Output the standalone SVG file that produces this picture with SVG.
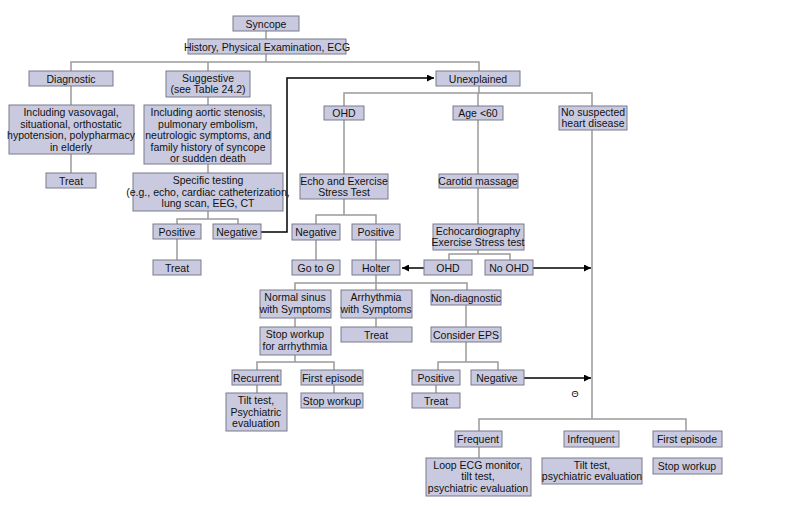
<svg xmlns="http://www.w3.org/2000/svg" width="803" height="530" viewBox="0 0 803 530">
<defs>
<style>
.b rect{fill:#c9cae0;stroke:#7a7a8a;stroke-width:1}
.b text{font-family:"Liberation Sans",Arial,sans-serif;font-size:10.5px;fill:#111;text-anchor:middle}
.c path{fill:none;stroke:#9a9a9a;stroke-width:1.5}
.c .k{stroke:#000;stroke-width:1.5}
</style>
<marker id="ar" viewBox="0 0 10 10" refX="10" refY="5" markerWidth="9" markerHeight="7" orient="auto" markerUnits="userSpaceOnUse"><path d="M0,0L10,5L0,10z" fill="#000"/></marker>
</defs>
<rect width="803" height="530" fill="#fff"/>
<g class="c">
<path d="M266,31V39M266,54V62M71,71V62H479V71M208,62V71"/>
<path d="M71,86V105M71,154V173M208,97V105M208,164V173M208,211V219M177,224V219H238V224M177,239V260"/>
<path d="M479,86V93M344,106V93H592V106M478,93V106M344,120V174M344,199V215M316,224V215H376V224M316,240V260M376,240V260"/>
<path d="M478,120V174M478,188V224M478,250V254M449,260V254H510V260"/>
<path d="M376,275V283M295,290V283H467V290M376,283V290M295,318V327M376,318V327M466,305V327"/>
<path d="M295,355V362M257,370V362H334V370M257,385V393M334,385V393M466,342V362M438,370V362H498V370M436,385V393"/>
<path d="M592,130V419M479,431V419H686V431M479,447V458"/>
<path class="k" d="M261,232H287V78H434" marker-end="url(#ar)"/>
<path class="k" d="M424,268H402" marker-end="url(#ar)"/>
<path class="k" d="M533,268H591" marker-end="url(#ar)"/>
<path class="k" d="M524,378H591" marker-end="url(#ar)"/>
</g>
<text x="575" y="397" font-family="Liberation Sans,sans-serif" font-size="9" text-anchor="middle">Θ</text>
<g class="b">
<g id="n1"><rect x="233" y="16" width="66" height="15"/><text x="266" y="27.5">Syncope</text></g>
<g id="n2"><rect x="188" y="39" width="158" height="15"/><text x="267" y="50.5">History, Physical Examination, ECG</text></g>
<g id="n3"><rect x="29" y="71" width="84" height="15"/><text x="71" y="82.5">Diagnostic</text></g>
<g id="n4"><rect x="166" y="71" width="84" height="26"/><text x="208" y="81.5">Suggestive</text><text x="208" y="93">(see Table 24.2)</text></g>
<g id="n5"><rect x="9" y="105" width="125" height="49"/><text x="71" y="116">Including vasovagal,</text><text x="71" y="127.5">situational, orthostatic</text><text x="71" y="139">hypotension, polypharmacy</text><text x="71" y="150.5">in elderly</text></g>
<g id="n6"><rect x="144" y="105" width="127" height="59"/><text x="208" y="116">Including aortic stenosis,</text><text x="208" y="127.5">pulmonary embolism,</text><text x="208" y="139">neutrologic symptoms, and</text><text x="208" y="150.5">family history of syncope</text><text x="208" y="162">or sudden death</text></g>
<g id="n7"><rect x="46" y="173" width="50" height="15"/><text x="71" y="184.5">Treat</text></g>
<g id="n8"><rect x="133" y="173" width="150" height="38"/><text x="208" y="184">Specific testing</text><text x="208" y="195.5">(e.g., echo, cardiac catheterization,</text><text x="208" y="207">lung scan, EEG, CT</text></g>
<g id="n9"><rect x="153" y="224" width="48" height="15"/><text x="177" y="235.5">Positive</text></g>
<g id="n10"><rect x="213" y="224" width="48" height="15"/><text x="237" y="235.5">Negative</text></g>
<g id="n11"><rect x="153" y="260" width="48" height="15"/><text x="177" y="271.5">Treat</text></g>
<g id="n12"><rect x="436" y="71" width="84" height="15"/><text x="478" y="82.5">Unexplained</text></g>
<g id="n13"><rect x="324" y="106" width="40" height="14"/><text x="344" y="117">OHD</text></g>
<g id="n14"><rect x="453" y="106" width="50" height="14"/><text x="478" y="117">Age &lt;60</text></g>
<g id="n15"><rect x="559" y="106" width="68" height="24"/><text x="593" y="116">No suspected</text><text x="593" y="127">heart disease</text></g>
<g id="n16"><rect x="300" y="174" width="88" height="25"/><text x="344" y="184.5">Echo and Exercise</text><text x="344" y="196">Stress Test</text></g>
<g id="n17"><rect x="439" y="174" width="79" height="14"/><text x="478" y="185">Carotid massage</text></g>
<g id="n18"><rect x="292" y="224" width="48" height="16"/><text x="316" y="236">Negative</text></g>
<g id="n19"><rect x="352" y="224" width="48" height="16"/><text x="376" y="236">Positive</text></g>
<g id="n20"><rect x="433" y="224" width="91" height="26"/><text x="478" y="234.5">Echocardiography</text><text x="478" y="246">Exercise Stress test</text></g>
<g id="n21"><rect x="292" y="260" width="48" height="15"/><text x="316" y="271.5">Go to Θ</text></g>
<g id="n22"><rect x="352" y="260" width="48" height="15"/><text x="376" y="271.5">Holter</text></g>
<g id="n23"><rect x="424" y="260" width="48" height="15"/><text x="448" y="271.5">OHD</text></g>
<g id="n24"><rect x="485" y="260" width="48" height="15"/><text x="509" y="271.5">No OHD</text></g>
<g id="n25"><rect x="260" y="290" width="71" height="28"/><text x="295" y="301">Normal sinus</text><text x="295" y="312.5">with Symptoms</text></g>
<g id="n26"><rect x="341" y="290" width="71" height="28"/><text x="376" y="301">Arrhythmia</text><text x="376" y="312.5">with Symptoms</text></g>
<g id="n27"><rect x="431" y="290" width="70" height="15"/><text x="466" y="301.5">Non-diagnostic</text></g>
<g id="n28"><rect x="260" y="327" width="71" height="28"/><text x="295" y="338">Stop workup</text><text x="295" y="349.5">for arrhythmia</text></g>
<g id="n29"><rect x="341" y="327" width="71" height="15"/><text x="376" y="338.5">Treat</text></g>
<g id="n30"><rect x="431" y="327" width="70" height="15"/><text x="466" y="338.5">Consider EPS</text></g>
<g id="n31"><rect x="232" y="370" width="49" height="15"/><text x="256" y="381.5">Recurrent</text></g>
<g id="n32"><rect x="301" y="370" width="62" height="15"/><text x="332" y="381.5">First episode</text></g>
<g id="n33"><rect x="412" y="370" width="48" height="15"/><text x="436" y="381.5">Positive</text></g>
<g id="n34"><rect x="471" y="370" width="53" height="15"/><text x="497" y="381.5">Negative</text></g>
<g id="n35"><rect x="226" y="393" width="61" height="38"/><text x="256" y="404">Tilt test,</text><text x="256" y="415.5">Psychiatric</text><text x="256" y="427">evaluation</text></g>
<g id="n36"><rect x="301" y="393" width="62" height="15"/><text x="332" y="404.5">Stop workup</text></g>
<g id="n37"><rect x="412" y="393" width="48" height="15"/><text x="436" y="404.5">Treat</text></g>
<g id="n38"><rect x="455" y="431" width="47" height="16"/><text x="478" y="443">Frequent</text></g>
<g id="n39"><rect x="564" y="431" width="55" height="16"/><text x="591" y="443">Infrequent</text></g>
<g id="n40"><rect x="653" y="431" width="69" height="16"/><text x="687" y="443">First episode</text></g>
<g id="n41"><rect x="426" y="458" width="105" height="38"/><text x="478" y="468.5">Loop ECG monitor,</text><text x="478" y="480">tilt test,</text><text x="478" y="491.5">psychiatric evaluation</text></g>
<g id="n42"><rect x="542" y="458" width="100" height="26"/><text x="592" y="468.5">Tilt test,</text><text x="592" y="480">psychiatric evaluation</text></g>
<g id="n43"><rect x="653" y="458" width="69" height="16"/><text x="687" y="470">Stop workup</text></g>
</g>
</svg>
